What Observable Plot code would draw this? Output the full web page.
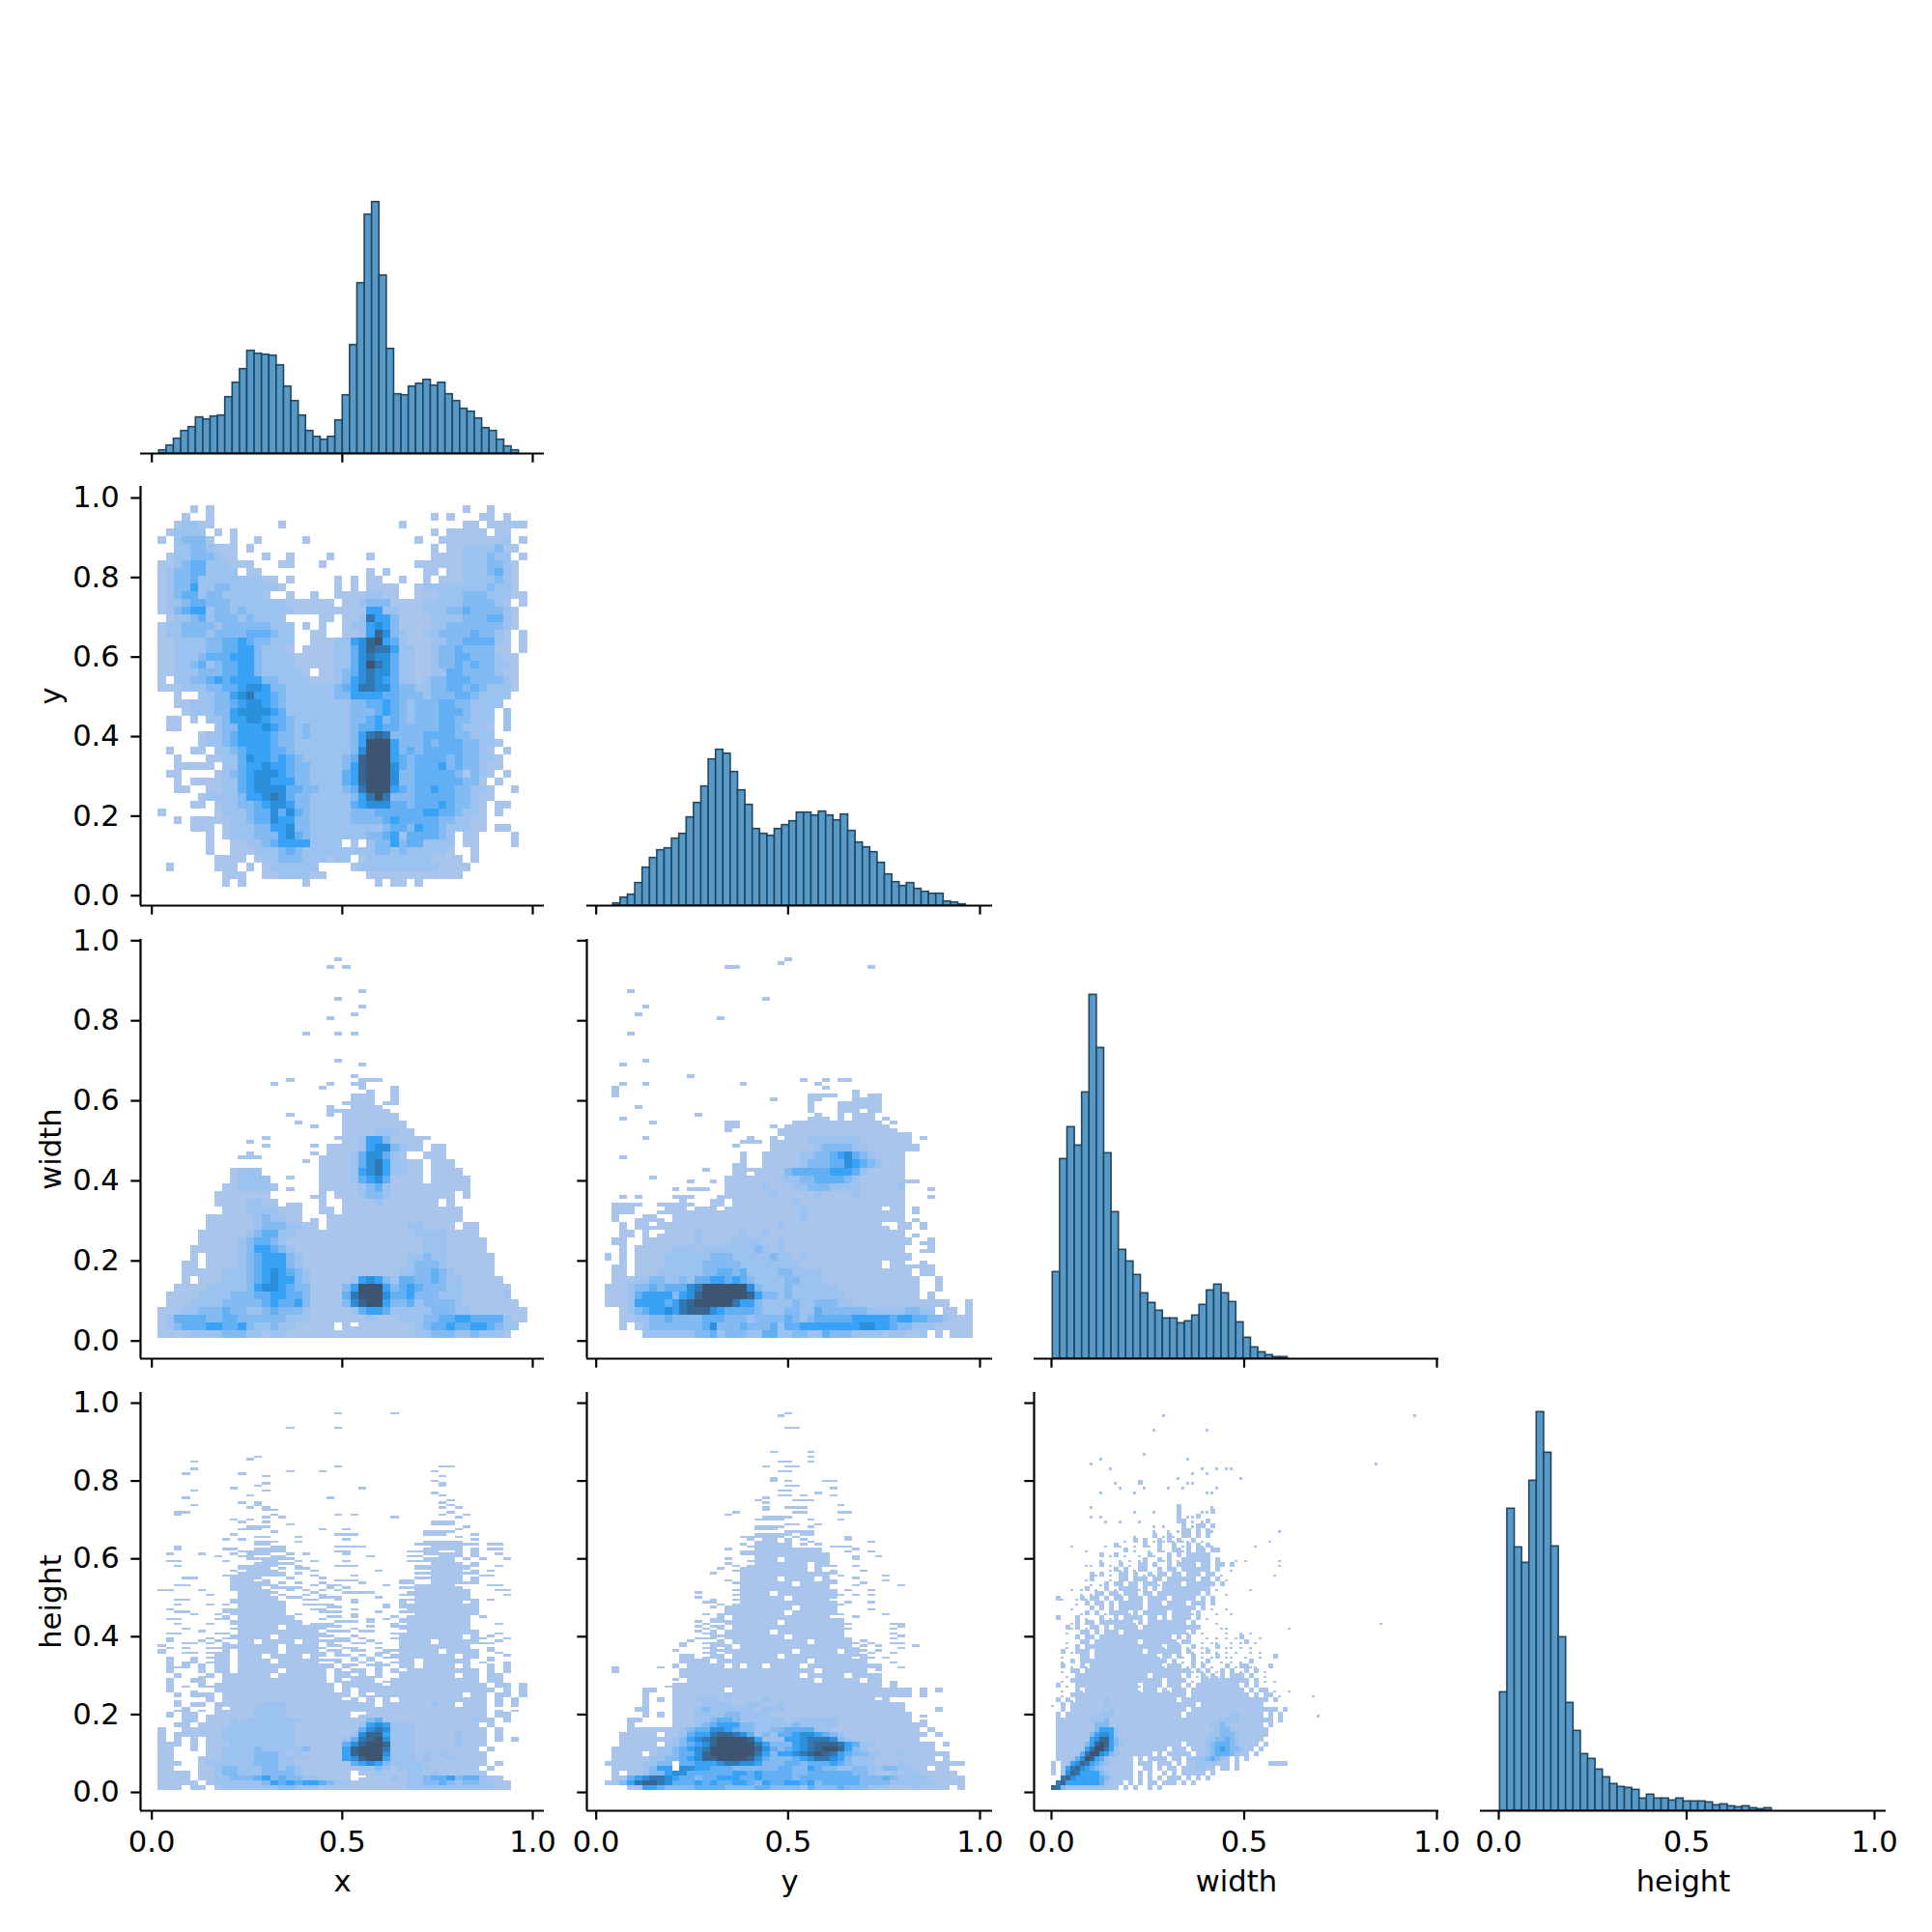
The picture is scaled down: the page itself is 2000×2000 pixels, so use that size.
<!DOCTYPE html>
<html><head><meta charset="utf-8">
<script src="https://cdn.jsdelivr.net/npm/d3@7"></script>
<script src="https://cdn.jsdelivr.net/npm/@observablehq/plot@0.6"></script>
<style>html,body{margin:0;background:#fff}#fig{position:relative;width:2000px;height:2000px;overflow:hidden}#fig>*{position:absolute}</style>
</head><body><div id="fig"></div>
<script>
const variables=["x","y","width","height"];
const tickValues=[0,0.5,1];
const xCounts=[10,25,46,70,82,112,106,115,118,175,220,262,319,310,307,304,274,208,163,118,70,52,43,52,103,181,337,529,742,781,553,325,184,181,208,217,229,211,220,184,163,139,130,109,79,70,43,22,10];
const yCounts=[7,25,34,70,118,148,172,178,208,223,274,319,370,454,484,472,415,358,313,238,223,217,238,250,262,289,289,280,292,280,265,283,232,196,181,166,133,97,73,61,70,52,43,37,37,13,10,4];
const widthCounts=[269,620,719,662,827,1130,965,638,455,338,302,260,203,173,149,125,125,110,116,134,167,212,230,203,176,113,65,35,20,11,5,5];
const heightCounts=[368,938,818,770,1025,1238,1112,821,539,335,248,176,161,128,104,83,74,71,65,38,50,38,38,32,38,29,29,29,26,17,20,14,11,14,8,5,8];
const histBins=[[0.0193,0.01927],[0.0443,0.01913],[0.0033,0.01904],[0.0034,0.01954]];
// Each row is split in blocks of ten bins by "|". digits: density level; . lower part of the bin only; ' upper part only
const gridXY=[
"    1 1   |          |          |        1 | 1","   1  1   |          |          |    1 1   |11 1","  12211   |     1    |          |1       11| 11111"," 12222 1 1|          |          |    1 1111|1 11","1 23331  1|  1     1 |          |  1  11111|1112 1","  22332111| 1        |          |    1 1122|22311"," 122333211|   1  1   | 1    1   |    111122|2322 1",
"1123442221|11   11   |1         |  11111122|23321","1233442222| 11       |      1 1 |   11 1122|23421","1233422222|22211 1   |  1 1 11  |1  1 11122|22321","1233522332|222221    |  1 1 1111|  12222222|23221","1234423322|2221  1  1|  11112211|  11122233|322211","1223443332|2222221111|11 1123331|1112222233|3321 1","1234552332|3222222111|1111115522|1112223343|33321",
" 122342333|232222    |11 1127553|1111222233|34421","1223333233|3333222 1 |1  1225653|1111223333|33321","1223332333|3444322  1|1  1125863|2112233334|3321 1","1122223344|5433222  1|1122568954|2111223344|4421 1","1122223344|5532221 11|1122468775|2211233433|3311 1","1122234445|5532222111|1122467664|2211233443|33211","1122342344|5532222111|1122469764|2211233434|33221",
"1122233344|553222221 |1123467664|2211224433|33211","1 22334545|5553322221|1123567654|2212334443|33321","1112223344|5665332222|2234577664|3322334434|32221","  1  22335|6755432222|2233555544|3332333443|2222","  11222334|5665432222|2222334454|3233344332|222","   1222335|6666542222|2222333454|3233344432|22 2"," 11 1 2235|5665443222|2222334534|3233344332|22 2",
" 11    233|5556543232|2222344544|3333344322|21 2","     12234|5555433232|2222357873|3334444332|22","     12234|5555433222|2222359995|3334344433|221"," 1  11 223|4555443222|2222369995|3434444433|21 1","  1   1122|4655454322|2223489995|4344443433|221","  11111 22|4556554332|2223589996|4344453433|211"," 11    123|4566654332|2224589996|3344444313|21 1",
"  1 111122|4566555332|2224589996|3344444433|1 1","  11  1122|4566664433|2223479995|4344544332|21  1","     12222|3556764332|2222357973|3344444332|11","    11 122|3345665332|2222456664|4344454332|1 11","1      122|2344646432|2222333444|4445544322|1 1","  1 111112|2344655332|2222333345|4444433221|1","    111 12|2233556332|2222222234|4354432221|1 11",
"      1 12|2233356432|2222223345|2444432 11|    1","      1  1|1223455552|222 1 2335|3442222 11|    1","      1  1|1122234322|2222222332|3222221  1","       111|1 12233322|2122 12222|22221111 1"," 1     111| 1 1222222|    122222|222221111","        11|1  1122221|1     1111|11111111","        1 |1       1 |       1 1|1 1"];
const gridXW=[
"                      '","                     ' '","","","                         '","                      '","                         '","                     .  '","","                  .   . .","","","","                      '  .","",
"          |      .   |    '...","          |    '     |.'  '1   .","          |          |    ..1  1","          |          |   .111 .1","          |          | 1..1111.","          |      '   | ' 1111111","          |       ' .|   1111111|1","          |          |   1111222|11",
"          | . '      |  '1125531|111'","          |   '     '| 111125663|211 11","          |.1.      '|.111246642|1  111","          |        ' |1111246752|211 111","         1|222       |1111256752|211 1111","         1|2222  '   |1111245641|111 11111","        11|22221 .   |1111123421|111111111","       111|1111     .|1 11123321|1111111 1",
"       111|12211 ..  |1  1111211|11111 1","        11|12222111  |11 1111111|11111111","      1111|11232211 .| 111111111|11111111","      1111|1123332211| 111111111|1221111 11","     11111|1234422111|1111111111|1122221111","     11111|2344321111|1111111111|1112221111|1","    111111|2355432111|1111111111|1112221111|1",
"    1 1111|2345553211|1111111111|1223221111|11","   11 1111|2345553211|1111111111|1233321111|11","   1111122|2345654321|1111111111|2233432111|11","   1 11122|2345655321|1111256532|4433432211|111","  11112222|2356654331|1113599953|4543332211|1111"," 111122223|3344554431|1114799964|4533322211|1112"," 111222233|3334544531|1113689953|3423333211|11111",
"1112233343|3223433321|1111245542|2222333221|111111","1244443344|3333332221|1111112111|2223344554|444211","1234445544|5322322111|11 1.11111|1123445445|54322","1111222233|3221221111|1111111111|1122333223|2221"];
const gridYW=[
"                       .'","                ''                 '","","","   '","                     '","     '","    '          .","","   .","","","","  .  '","",
"           '              .  . ..", " .'  '            '         '.", " 1                         ....  1 ..","                      '    1'  ..1111","    '                      1   111'11","  .         '              .1. 1 111 .",
"      '   |      11  |  . .11111|1111111.'","          |      '   |   1111111|111111111..","     '    |        .1|. 1.111222|2222111111|1 '","          |       '  |  11111123|3332211111|11","  .       |        1 | 111112233|4564321111","          |       .1 | 111112333|4465432111","          |   '   11'|1111344444|5554211111","      '   | .  . 1111|1111223344|4432111111|..",
"         .| ...  1111|1211122333|2222111112|   .","  . .    .|..   .1111|1121111121|1112111111|   ."," ....  ...|1.  11 111|1111121111|1111111111"," 111   .11|1.111.1111|1111112111|1111111.11| 1"," 1  .11. 1|1111111111|1111112111|1111111111| .","  1 11.111|1111111111|1112111111|1111111. 1|1 1","  11 1 .11|1121111121|1211111111|1111111111| ."," 11  11111|1121111222|2112111111|1111111111|1 .1",
"  1 111112|2212222222|3212111111|1111111111|  .1","1 1 111122|2222333222|2232212111|1111111111|1"," .1 111122|2223333322|2222221111|1111111 11|..1."," 11 111222|2223344342|2223322221|1111111111|1 11"," 111223322|3244554543|2222332221|1111111111|11  1","1112334344|4679999996|3222322222|2111111111|11  1","1112455553|5689999998|5332322222|2211111111|11 1",
"1112555545|7899999755|3222232233|3221111111|111111  1","  12345565|7888654444|3222332243|3333322222|3322 11 1","  11223343|3334443332|3333432344|4445555545|544332111","  1 123333|3334633343|3342445555|5555665543|3222111111","     22222|2233423332|2442233224|3332222122|112 1 111"];
const gridXH=[
"                      '      '","","","                '     '","","","","","","           .'","    '","    .                 '            ''","   .      .     '   '             '","             '                     '","             .                    '.","         .  '            .         '","    '        '                    .","   .       '         .             '","          . .                      .'","    '      .'.                     .'.","  ..         ''                     .",
"  '          .'.      ' '    .     ' .'","         '.' .                    ...","           ...  '                 ''' .","          ''' .     '  '         ....'","         '  ..   .    '''        ''' . '","        ' ' ...  .     '         ..... '",
"  .       |  ''..    |  ....    |  ''1111''| ''","  '     ''|..1111    |  ..      | ..11''1 1| ''"," '   ' . '|.1''..' ' |   '  .   | ..''111 1|  '"," ..     . | ''11''. .|   .      | ..1111 ' |'  '","  .       |..111''.  |  ...     |  ..1111.1|  .","         .|'111.' ''.|       .  |  ''1111'.| .","        ..|111111 ' .|    .     |  ''1111''|..","   ''    1|11'.  '   |' ...     |..''1111 1|","  ..     1|1111.' ' .|'..  '  . |''..111'''| ..","..   .   1|111.''1'. |.'.'      |''111111. |  ..",
"      .   |1111'.  .'|.  ''''   |.11111111 |   .","  ..     .|11111 ''..|''1 .  '  |..1111111.| .","  .   . .'|111111  ..|..  '   . |1.111111.1|"," .      ..|111111   .|.'' .   ' |'111111111|","  ''.  .'1|111111 .  |''' .  '  |''11111111|"," ..    .1 |1111111   |.'' ' . .'|.11111111 |'","  .   .  1|11111111 .|..''' '  .|'11111111 |  .","   .     .|11111 1111|1'' . '  '|111111111 |"," ..  ' .. |1111111111|.''' ''  .|.111111111|  ."," .    . .1|1111 11111|''..'.   .|11111111 1|.' ."," ' ..'.'. |11 1111 11|'1''..'.  |1111 11111|..'","'. .  ..11|11111 1111|.''..  .  |111111111 | .","1  .. ..1 |11111 1111|.'1 '' .1'|11111 1111| '."," .  . .11 |111 1111 1|' ''.'.'.1|1111111 11| . '"," 1 .1 .11 |1111 11111|''1 '.'. .|11 111111|.' ."," 1.1 1 11 |1111111111|11 1' '1' |11 1111 1| 1 1"," 1   1 11 |11111 1111|1 1.11 1 1|.111111111| 1 1","  1  .1 11|1111 11111|1 11.1.1  |1111111 11| 11"," 1  11  11|1111111111|1 1.111 .1|1111111111| 11"," 1 . 1.111|1111111111|11 11111.1|1111111111|1 11 1"," 1  .  111|1111111111|11 1 11111|1111111111|11 1 1","  1 111 11|1111111111|1111 1.111|11111111 1|1 11 1","  .   1 11|1111111111|111.1 1 1 |1111111111|1 1 1 1",
"  1 11 111|1112221111|1111111 11|1111211 11|1 1 1","  .1 . 1.1|1122221111|1111111111|1111111111|1 . ."," 1 11 .111|1122221111|1111 .1111|1111111111|1 11","   11 1112|1222222211|1111113411|1111111112|11 1","  11 11112|2222222111|1111125652|2211111111| 1","1  1111122|2222222111|1111146762|2211111111|1 1","1 11111122|2222222111|1111268852|2211111211|1 1","1 1 1 1122|2222222111|1112478962|2211111211|1 1 1",
"111 1 1112|2222222111|1114689982|2211111211|1","11  1 1122|2232222231|1115899972|2211111111| 1","11    1122|2233321211|1115899962|2212121111|1","11   11122|2233322121|1115689952|2212112111|1","111  12222|2233322111|1111456532|2221111111|1 1","11   11233|2223323211|1111122321|2222111111| 1","1111 11233|2223333211|1111 11211|1221211111|1","1111 11223|3345343322|1111 .1112|1223445344|211",
"11111 1222|2223545455|4322111111|1223343233|2211","111 11 122|2222233222|1111111111|1222222222|2211"];
const gridYH=[
"                       .'","","","                        ''","","","","","                      '    '","                           '","                       ''  '","                     '  ''","                       ''","                      .","                      ' '    ''",
"                        ''    .","                       ''   .","                     . '' '   '","                    '.   '''","                     .  ...    '","                 .   '   ..    ..","                '    ....",     "                    ''''   '   '","                    ....'' .'","                    ''' ....",
"          |        ..|1111'.''  |  .","          |         '|.11 1 '. |  '  .","          |        '.|11111 ' '|...","          |      ' ..|111111111 |  .' .","          |        ''|1111111111|   .  .","          |      '  .|111 111111|   '","          |      '. .|1111111 11|.  .","          |     ' .11|1111111 1 |.   .","          |    '   11|1111111111|'.     .","          |      . 11|111 1111 1|.  '   .",
"          |       '11|11111 1111|'  .'    .","          |       .11|1111111111|. .  .","          |  '    .11|11 1111111|1. . .","          |  ' .  .11|1111 11111|'","          |   ''. .11|1111111111|1.'  '","          |    ' 1111|11111 1111|1    .","          |   . .1111|1111 11111|1.     .","          |    .1 111|1111111111|.. '","          |  '.''1111|111 111111|11.     ..","          |  '.'1 111|1111111111|11.     .'",
"          |  '.1 1111|11 1111111|11      .","          |  ..1'1111|1111 11111|11.     .'","          |.' ..1 111|1111111 11|111.'.  ..","          |'  .1'1 11|1111111111|111.' '  . '","         '|   .1'1111|11111 1111|1 11'.' .","          |11 .11 111|111 111111|111'1. .","          |1111 11111|1111111 11|11111   .",
" .     . 1| 11111 1 1|1 1111 111|1111111  ."," 1        |1111111111|11111111 1|11111 '", "          |1111111111|111111 111|11 1111","         '| 111111111|11111111 1|1111 11 .","        .1|1111111111|1111111111|1111111 1","     11  1|111111 111|1111111111|1111111111|1 1 1","     1   1|1111112111|1111111111|1111111111|1 1","     1 1 1|1122211111|1211111111|111111.1","     1   1|1112222112|2112111111|1111111111","    11   1|1123222222|1222111111|1111111111|    1","     1 1 1|1122223322|2211111111|1111111111|1 .",
"   11    1|1122344322|2222122222|2111111111|1 .","   1     1|1123455533|2222232222|2111111111|111","   1111111|2344665433|2233444422|1111111111|11 1","  11111 11|2455788764|2324456654|3211111111|111 1","  11111112|3567899998|5222556777|6321111111|11","  11111 22|3456899999|7533356788|8754221111|1111 1"," 111111223|4567999999|8643456789|9853211111|1111"," 1111 1223|4468999999|7535567898|7543322112|111111",
" 111112233|4568899998|6433345677|6532221111|1111 1","111112233 |4455567766|5333443444|5432221112|11111111"," 11112355 |6655444333|3334433543|3223322332|211 11"," 1 1123356|6444444554|5444433444|4443321121|2211111"," 114567765|4434455544|5444434444|4444333432|22211111","1135788764|4454544554|3544554534|4444333322|22221111","   1155433|3344443333|4433332433|3433322211|121111 1 1"];
const gridWH=[
"                       .                                                   .","","","                     .          .","","","","","                   .","          .                 .","        .                                                          .","            .                  .  . ..","                             .  .","                          .            .","             .    1         ..",
"              .    .    .  .      .","          .      .              ..",  "","","        .                 1      .","                 .   .    1    ..1","        . .               1 ..1","           .  .   .       11 . .1 ","                     . .   1 .11 1","                     .  . .11 1 1.             .","                 .   1 .1. 11 1 1","               . 1 1 .1.1.1..1 .             .","    .      . 1.  . 1. 1  1 .1 1.1.        .","       .       1 .  . 1. 11.1 11 11",
"          1 .1 .  . 1.  1 1 11111","          .   . . .1  1.1 .111111 1   . .      .","       .. 1 . 1 . 11 1  1 1111 11 11 1         .","            .1.1 .11  1 11 111111 1  .","        1.1 . 11 1 .1.11 11 111 11 .          .","       .1   . 11 111 11 111111 11 1 . ","        . .1 11 11 111.1111 111111 1","    . .1 . 1 .1111.1 1 1111111111 .      .","      . .11 11.111 11 111111111 1   ."," 1.  .1.11 1 11 111 1111 11111 1 1","     . 1 11 1 11111 111 1111 111 1   ",
"    .   1 1 1 11111 1111111111 1 .  .","      .1 1 .1111.1 11111 1111.1   .  ."," 1   1 .  1 .1 1111 11 1 1111 1 ." ,"    .1 11 1111111.1 11111111 1    .                                 .","   1.1 .11 1 11111 111111111111    ..            .","   .  11 1 111 1111111111111.1 .    .  . .","     1 11 111111111111111 1 1   . . . .1   .","   .  11 111111111 1111111.11  . ..  . .1 .",
"   . 1 1111111111111111.111 .1 .. 1 .. . .","  1 .111 1111111111 1111111 1. .1 . . .  . .","  .   11 1111111111111.11 1. 1 . .1 ..  .  .  1","  . 1 111111111111111111 1 . 1 .1  . . . 1","  1 . 1.111111111111111.111 .1 1 .  1 .11..  1","  . 11 1111111111111111111111.1.1 .1 1 .1 1 .","   . 111111111111111 111111 1 .1.1.1 111 1  .",
"  . 1111111111111111111 1111 . 1111111111 1 . ."," 1 . 1111111111111.1111 111 1 111111111 1 1","  .  1.11111111111.111 1.111 11111111111 1 11 .  .","  . 111111111111111111111111 111111111111 1 11 .      ."," 1 1.111111211111111111111 111111111111111111 1",". 1 11111112111111111111111111 1111111111111","  1 111111112111111111111111 111111111111111111 1"," 1 111111122211111111111111 1111111112211111 1 1       ."," 111111122231111111111111111111111122221111111 1",
" 111111113|3311111111|1111111111|1112232111|1111 1"," 111111113|5552111111|1111111111|1111233211|11111"," 111111135|6652111111|1111111111|1112233321|11111"," 111111156|8853111111|1111111111|1122334321|1111"," 111111358|9853211111|1111111 11|1123444321|111 1"," 111111579|9752111111|1111 111 1|1123454332|11 1"," 111114799|6532111111|1 1 11111 |1123444321|1 1"," 111146985|4211111 1 |1111 11 12|2234321 1 |1","1 11568754|3211111 11|1 111 1 11|2222111 1 |     1111",
"1 15786543|2111111  1|1 1 11 111|2211 11 1","1 16875555|3211111 1 |1  1 1 111|11 1","  78655555|4321111 1 |1 1 111 1|1 1"," 785555555|42111 1 1 |11 111 1 1","8732222222|2111 1 1  |1 1"];
const heatColors=["#a9c5ec","#9cc2ef","#83baf2","#62aff4","#38a2f6","#2c8fdb","#3178b2","#386690","#3d5571"];
const heatLevels=[1,2,3,4,5,6,7,8,9];
const panels=[
 {g:gridXY,c:0,r:1,x0:0.017,dx:0.02107,y0:0.98,dy:0.01955,n:46,N:49},
 {g:gridXW,c:0,r:2,x0:0.017,dx:0.02107,y0:0.9565,dy:0.01941,n:46,N:49},
 {g:gridYW,c:1,r:2,x0:0.0226,dx:0.01957,y0:0.9565,dy:0.01941,n:49,N:49},
 {g:gridXH,c:0,r:3,x0:0.017,dx:0.02107,y0:0.976,dy:0.01244,n:46,N:78},
 {g:gridYH,c:1,r:3,x0:0.0226,dx:0.01957,y0:0.976,dy:0.01244,n:49,N:78},
 {g:gridWH,c:2,r:3,x0:0.0008,dx:0.01253,y0:0.976,dy:0.01244,n:80,N:78,quarter:true}];
const diagonals=[xCounts,yCounts,widthCounts,heightCounts];
// frame of each column and row, with the two pixels that pin the ticks
const cols=[{L:145,R:563,a:156.7,b:551},{L:607,R:1027,a:616.7,b:1014},{L:1070,R:1489,a:1088,b:1487},{L:1532,R:1952,a:1551,b:1940}];
const rows=[{T:34,B:469},{T:503,B:937,a:926.7,b:515},{T:972,B:1406,a:1387.7,b:973.3},{T:1441,B:1874,a:1855,b:1452}];
const FS=30.6,SW=2.2,TS=9.7;
const mL=110,mB=95,mR=4,mT=4;
const font={fontFamily:"DejaVu Sans",fontSize:FS+"px",background:"transparent",overflow:"visible"};
const dom=(lo,hi,a,b)=>[(lo-a)/(b-a),(hi-a)/(b-a)];
const expand=line=>line.includes("|")?line.split("|").map((s,i,a)=>i<a.length-1?s.padEnd(10).slice(0,10):s).join(""):line;
function cellsOf(p){
  const out=[];
  const off=p.N-p.g.length;
  p.g.forEach((raw,i)=>{
    const line=expand(raw);
    for(let j=0;j<Math.min(line.length,p.n);j++){
      const ch=line[j]; if(ch===" ")continue;
      const x1=p.x0+j*p.dx; let x2=x1+p.dx;
      const top=p.y0-(i+off)*p.dy, bot=top-p.dy; let y1=bot,y2=top,v=+ch;
      if(ch==="."){v=1;y2=bot+p.dy/2;if(p.quarter)x2=x1+p.dx/2;}
      if(ch==="'"){v=1;y1=bot+p.dy/2;if(p.quarter)x2=x1+p.dx/2;}
      out.push({x1,x2,y1,y2,v});
    }
  });
  return out;
}
function place(node,left,top){node.style.left=left+"px";node.style.top=top+"px";document.getElementById("fig").appendChild(node);}
function axes(c,r,xd,yd,showY){
  const ms=[];
  const lastRow=r===3;
  ms.push(Plot.axisX({ticks:tickValues,tickSize:TS,strokeWidth:SW,stroke:"black",tickPadding:11,fontSize:FS,
    tickFormat:d3.format(".1f"),label:lastRow?variables[c]:null,labelAnchor:"center",labelArrow:"none",labelOffset:83,
    ...(lastRow?{fill:"black"}:{fill:"none"})}));
  if(showY){
    ms.push(Plot.axisY({ticks:d3.range(0,1.01,0.2).map(v=>+v.toFixed(1)),tickSize:TS,strokeWidth:SW,stroke:"black",tickPadding:12,fontSize:FS,
      tickFormat:d3.format(".1f"),label:c===0?variables[r]:null,labelAnchor:"center",labelArrow:"none",labelOffset:104,
      ...(c===0?{fill:"black"}:{fill:"none"})}));
    ms.push(Plot.ruleX([xd[0]],{stroke:"black",strokeWidth:SW}));
  }
  ms.push(Plot.ruleY([yd[0]],{stroke:"black",strokeWidth:SW}));
  return ms;
}
function frameOpts(c,r,xd,yd,extra){
  const C=cols[c],R=rows[r];
  return {width:C.R-C.L+mL+mR,height:R.B-R.T+mB+mT,marginLeft:mL,marginRight:mR,marginTop:mT,marginBottom:mB,
    x:{domain:xd,axis:null},y:{domain:yd,axis:null},style:font,...extra};
}
panels.forEach(p=>{
  const C=cols[p.c],R=rows[p.r];
  const xd=dom(C.L,C.R,C.a,C.b), yd=dom(R.B,R.T,R.a,R.b);
  const node=Plot.plot(frameOpts(p.c,p.r,xd,yd,{
    color:{type:"ordinal",domain:heatLevels,range:heatColors},
    marks:[Plot.rect(cellsOf(p),{x1:"x1",x2:"x2",y1:"y1",y2:"y2",fill:"v",shapeRendering:"crispEdges"}),...axes(p.c,p.r,xd,yd,true)]}));
  place(node,C.L-mL,R.T-mT);
});
diagonals.forEach((vals,i)=>{
  const C=cols[i],R=rows[i];
  const xd=dom(C.L,C.R,C.a,C.b), yd=[0,(R.B-R.T)*3];
  const [s,w]=histBins[i];
  const bars=vals.map((v,k)=>({x1:s+k*w,x2:s+(k+1)*w,v}));
  const node=Plot.plot(frameOpts(i,i,xd,yd,{
    marks:[Plot.rect(bars,{x1:"x1",x2:"x2",y1:0,y2:"v",fill:"#5799c7",stroke:"#23465f",strokeWidth:1.6}),...axes(i,i,xd,yd,false)]}));
  place(node,C.L-mL,R.T-mT);
});
</script></body></html>
